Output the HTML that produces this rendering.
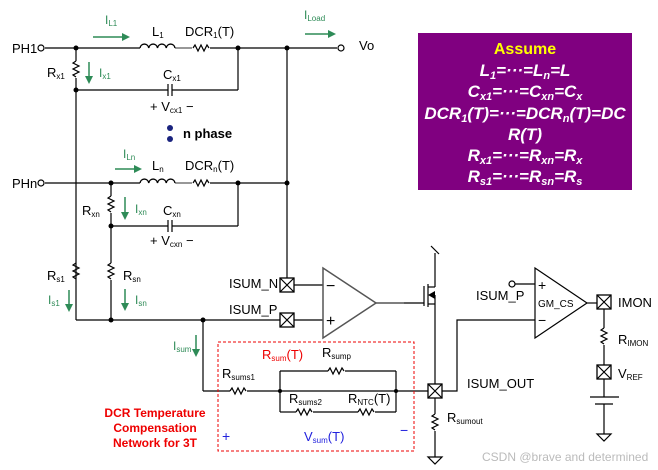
<!DOCTYPE html>
<html><head><meta charset="utf-8"><style>
html,body{margin:0;padding:0;background:#fff;}
svg{display:block;font-family:"Liberation Sans",Arial,sans-serif;}
</style></head><body>
<svg width="658" height="470" viewBox="0 0 658 470" xmlns="http://www.w3.org/2000/svg">
<defs>
<marker id="ga" markerWidth="8" markerHeight="8" refX="6" refY="4" orient="auto" markerUnits="userSpaceOnUse"><path d="M0,0 L8,4 L0,8 z" fill="#2e8b57"/></marker>
<g id="rh"><path d="M0,0 l2,-3 l3,6 l3,-6 l3,6 l3,-6 l2,3" fill="none" stroke="#000" stroke-width="1.2"/></g>
<g id="rv"><path d="M0,0 l-3,2 l6,3 l-6,3 l6,3 l-6,3 l3,2" fill="none" stroke="#000" stroke-width="1.2"/></g>
<g id="ind"><path d="M0,0 a4.4,4.4 0 0 1 8.75,0 a4.4,4.4 0 0 1 8.75,0 a4.4,4.4 0 0 1 8.75,0 a4.4,4.4 0 0 1 8.75,0" fill="none" stroke="#000" stroke-width="1.3"/></g>
<g id="xb"><rect x="-7" y="-7" width="14" height="14" fill="#fff" stroke="#000" stroke-width="1.3"/><path d="M-7,-7 L7,7 M7,-7 L-7,7" stroke="#000" stroke-width="1.2"/></g>
<g id="gnd"><path d="M-7,0 L7,0 L0,7 z" fill="#fff" stroke="#000" stroke-width="1.2"/></g>
</defs>
<g stroke="#000" stroke-width="1.2" fill="none">
<line x1="45" y1="48" x2="140" y2="48"/>
<line x1="175" y1="48" x2="192" y2="48" stroke="#777" stroke-width="1.5"/>
<line x1="210" y1="48" x2="337" y2="48"/>
<line x1="76" y1="48" x2="76" y2="61"/><line x1="76" y1="78" x2="76" y2="320"/>
<line x1="76" y1="90" x2="168" y2="90"/><line x1="172" y1="90" x2="238" y2="90"/><line x1="238" y1="90" x2="238" y2="48"/>
<line x1="168" y1="84" x2="168" y2="96"/><line x1="172" y1="84" x2="172" y2="96"/>
<line x1="45" y1="183" x2="140" y2="183"/>
<line x1="175" y1="183" x2="192" y2="183" stroke="#777" stroke-width="1.5"/>
<line x1="210" y1="183" x2="287" y2="183"/>
<line x1="111" y1="183" x2="111" y2="196"/><line x1="111" y1="213" x2="111" y2="263"/><line x1="111" y1="280" x2="111" y2="320"/>
<line x1="111" y1="226" x2="168" y2="226"/><line x1="172" y1="226" x2="238" y2="226"/><line x1="238" y1="226" x2="238" y2="183"/>
<line x1="168" y1="220" x2="168" y2="232"/><line x1="172" y1="220" x2="172" y2="232"/>
<line x1="287" y1="48" x2="287" y2="278"/>
<line x1="76" y1="320" x2="280" y2="320"/>
<line x1="294" y1="285" x2="323" y2="285"/><line x1="294" y1="320" x2="323" y2="320"/>
<path d="M323,268 L323,338 L376,303 z" stroke="#555" stroke-width="1.5"/>
<line x1="376" y1="303" x2="404" y2="303" stroke="#555" stroke-width="1.5"/>
<line x1="404" y1="303" x2="424" y2="303"/>
<line x1="424" y1="286" x2="424" y2="306"/><line x1="428" y1="284" x2="428" y2="307"/>
<line x1="428" y1="287" x2="435" y2="287"/><line x1="428" y1="304" x2="435" y2="304"/>
<line x1="435" y1="253" x2="435" y2="287"/><line x1="435" y1="295" x2="435" y2="384"/>
<line x1="431" y1="246" x2="439" y2="254"/>
<line x1="203" y1="320" x2="203" y2="391"/>
<line x1="203" y1="391" x2="230" y2="391"/><line x1="247" y1="391" x2="428" y2="391"/>
<line x1="280" y1="371" x2="280" y2="412"/><line x1="396" y1="371" x2="396" y2="412"/>
<line x1="280" y1="371" x2="328" y2="371"/><line x1="345" y1="371" x2="396" y2="371"/>
<line x1="280" y1="412" x2="296" y2="412"/><line x1="313" y1="412" x2="358" y2="412"/><line x1="375" y1="412" x2="396" y2="412"/>
<line x1="435" y1="398" x2="435" y2="414"/><line x1="435" y1="431" x2="435" y2="457"/>
<path d="M442,391 L457,391 L457,320 L535,320"/>
<path d="M535,268 L535,338 L587,303 z"/>
<line x1="515" y1="284" x2="535" y2="284"/>
<line x1="587" y1="303" x2="597" y2="303"/>
<line x1="604" y1="309" x2="604" y2="328"/><line x1="604" y1="345" x2="604" y2="365"/><line x1="604" y1="379" x2="604" y2="397"/>
<line x1="590" y1="397" x2="619" y2="397"/><line x1="595" y1="404" x2="613" y2="404"/>
<line x1="604" y1="404" x2="604" y2="434"/>
</g>
<path d="M428,295 l7,-4 l0,8 z" fill="#000"/>
<use href="#ind" x="140" y="48"/><use href="#ind" x="140" y="183"/>
<use href="#rh" x="193" y="48"/><use href="#rh" x="193" y="183"/>
<use href="#rv" x="76" y="61"/><use href="#rv" x="111" y="196"/>
<use href="#rv" x="76" y="263"/><use href="#rv" x="111" y="263"/>
<use href="#rh" x="230" y="391"/><use href="#rh" x="328" y="371"/>
<use href="#rh" x="296" y="412"/><use href="#rh" x="358" y="412"/>
<use href="#rv" x="435" y="414"/><use href="#rv" x="604" y="328"/>
<use href="#xb" x="287" y="285"/><use href="#xb" x="287" y="320"/>
<use href="#xb" x="435" y="391"/><use href="#xb" x="604" y="302"/><use href="#xb" x="604" y="372"/>
<use href="#gnd" x="435" y="457"/><use href="#gnd" x="604" y="434"/>
<g fill="#000"><circle cx="76" cy="48" r="2.5"/><circle cx="238" cy="48" r="2.5"/><circle cx="287" cy="48" r="2.5"/><circle cx="76" cy="90" r="2.5"/>
<circle cx="111" cy="183" r="2.5"/><circle cx="238" cy="183" r="2.5"/><circle cx="287" cy="183" r="2.5"/><circle cx="111" cy="226" r="2.5"/>
<circle cx="111" cy="320" r="2.5"/><circle cx="203" cy="320" r="2.5"/><circle cx="280" cy="391" r="2"/><circle cx="396" cy="391" r="2"/></g>
<g fill="#fff" stroke="#000" stroke-width="1.2"><circle cx="41" cy="48" r="3"/><circle cx="341" cy="48" r="3"/><circle cx="41" cy="183" r="3"/><circle cx="512" cy="284" r="3"/></g>
<circle cx="170" cy="128" r="3" fill="#1a237e"/><circle cx="170" cy="139" r="3" fill="#1a237e"/>
<g stroke="#2e8b57" stroke-width="1.5" marker-end="url(#ga)">
<line x1="93" y1="37" x2="128" y2="37"/><line x1="305" y1="34" x2="334" y2="34"/><line x1="115" y1="169" x2="140" y2="169"/>
<line x1="89" y1="62" x2="89" y2="82"/><line x1="125" y1="197" x2="125" y2="218"/>
<line x1="69" y1="290" x2="69" y2="310"/><line x1="125" y1="289" x2="125" y2="309"/><line x1="196" y1="335" x2="196" y2="355"/>
</g>
<rect x="218" y="342" width="196" height="109" fill="none" stroke="#e00" stroke-width="1" stroke-dasharray="3,2"/>
<g font-size="13" fill="#000">
<text x="12" y="53">PH1</text><text x="12" y="188">PHn</text><text x="359" y="50">Vo</text>
<text x="152" y="36">L<tspan font-size="8" dy="2">1</tspan></text>
<text x="185" y="36">DCR<tspan font-size="8" dy="2">1</tspan><tspan dy="-2">(T)</tspan></text>
<text x="152" y="170">L<tspan font-size="8" dy="2">n</tspan></text>
<text x="185" y="170">DCR<tspan font-size="8" dy="2">n</tspan><tspan dy="-2">(T)</tspan></text>
<text x="47" y="77">R<tspan font-size="8" dy="2">x1</tspan></text>
<text x="163" y="79">C<tspan font-size="8" dy="2">x1</tspan></text>
<text x="150" y="111">+ V<tspan font-size="8" dy="2">cx1</tspan><tspan dy="-2"> −</tspan></text>
<text x="82" y="215">R<tspan font-size="8" dy="2">xn</tspan></text>
<text x="163" y="215">C<tspan font-size="8" dy="2">xn</tspan></text>
<text x="150" y="245">+ V<tspan font-size="8" dy="2">cxn</tspan><tspan dy="-2"> −</tspan></text>
<text x="47" y="280">R<tspan font-size="8" dy="2">s1</tspan></text>
<text x="123" y="280">R<tspan font-size="8" dy="2">sn</tspan></text>
<text x="229" y="288">ISUM_N</text><text x="229" y="314">ISUM_P</text>
<text x="222" y="378">R<tspan font-size="8" dy="2">sums1</tspan></text>
<text x="322" y="357">R<tspan font-size="8" dy="2">sump</tspan></text>
<text x="289" y="403">R<tspan font-size="8" dy="2">sums2</tspan></text>
<text x="348" y="403">R<tspan font-size="8" dy="2">NTC</tspan><tspan dy="-2">(T)</tspan></text>
<text x="447" y="422">R<tspan font-size="8" dy="2">sumout</tspan></text>
<text x="467" y="388">ISUM_OUT</text>
<text x="476" y="300">ISUM_P</text>
<text x="618" y="307">IMON</text>
<text x="618" y="344">R<tspan font-size="8" dy="2">IMON</tspan></text>
<text x="618" y="378">V<tspan font-size="8" dy="2">REF</tspan></text>
<text x="326" y="291" font-size="16">−</text><text x="326" y="326" font-size="16">+</text>
<text x="538" y="290" font-size="14">+</text><text x="538" y="325" font-size="14">−</text>
<text x="538" y="307" font-size="10">GM_CS</text>
<text x="183" y="138" font-weight="bold">n phase</text>
</g>
<g font-size="12" fill="#2e8b57">
<text x="105" y="24">I<tspan font-size="8" dy="2">L1</tspan></text>
<text x="304" y="19">I<tspan font-size="8" dy="2">Load</tspan></text>
<text x="123" y="158">I<tspan font-size="8" dy="2">Ln</tspan></text>
<text x="99" y="77">I<tspan font-size="8" dy="2">x1</tspan></text>
<text x="135" y="213">I<tspan font-size="8" dy="2">xn</tspan></text>
<text x="48" y="304">I<tspan font-size="8" dy="2">s1</tspan></text>
<text x="135" y="304">I<tspan font-size="8" dy="2">sn</tspan></text>
<text x="173" y="350">I<tspan font-size="8" dy="2">sum</tspan></text>
</g>
<text x="262" y="359" font-size="13" fill="#e00">R<tspan font-size="8" dy="2">sum</tspan><tspan dy="-2">(T)</tspan></text>
<text x="304" y="441" font-size="13" fill="#22d">V<tspan font-size="8" dy="2">sum</tspan><tspan dy="-2">(T)</tspan></text>
<text x="222" y="441" font-size="14" fill="#22d">+</text><text x="400" y="435" font-size="14" fill="#22d">−</text>
<g font-size="12" font-weight="bold" fill="#e00" text-anchor="middle">
<text x="155" y="417">DCR Temperature</text><text x="155" y="432">Compensation</text><text x="155" y="447">Network for 3T</text>
</g>
<rect x="418" y="33" width="214" height="157" fill="#800080"/>
<g font-size="17" font-weight="bold" font-style="italic" fill="#fff" text-anchor="middle">
<text x="525" y="54" fill="#ff0" font-style="normal" font-size="16">Assume</text>
<text x="525" y="76">L<tspan font-size="11" dy="3">1</tspan><tspan dy="-3">=···=L</tspan><tspan font-size="11" dy="3">n</tspan><tspan dy="-3">=L</tspan></text>
<text x="525" y="97">C<tspan font-size="11" dy="3">x1</tspan><tspan dy="-3">=···=C</tspan><tspan font-size="11" dy="3">xn</tspan><tspan dy="-3">=C</tspan><tspan font-size="11" dy="3">x</tspan></text>
<text x="525" y="119">DCR<tspan font-size="11" dy="3">1</tspan><tspan dy="-3">(T)=···=DCR</tspan><tspan font-size="11" dy="3">n</tspan><tspan dy="-3">(T)=DC</tspan></text>
<text x="525" y="140">R(T)</text>
<text x="525" y="161">R<tspan font-size="11" dy="3">x1</tspan><tspan dy="-3">=···=R</tspan><tspan font-size="11" dy="3">xn</tspan><tspan dy="-3">=R</tspan><tspan font-size="11" dy="3">x</tspan></text>
<text x="525" y="182">R<tspan font-size="11" dy="3">s1</tspan><tspan dy="-3">=···=R</tspan><tspan font-size="11" dy="3">sn</tspan><tspan dy="-3">=R</tspan><tspan font-size="11" dy="3">s</tspan></text>
</g>
<text x="482" y="461" font-size="12" fill="#bbb">CSDN @brave and determined</text>
</svg>
</body></html>
